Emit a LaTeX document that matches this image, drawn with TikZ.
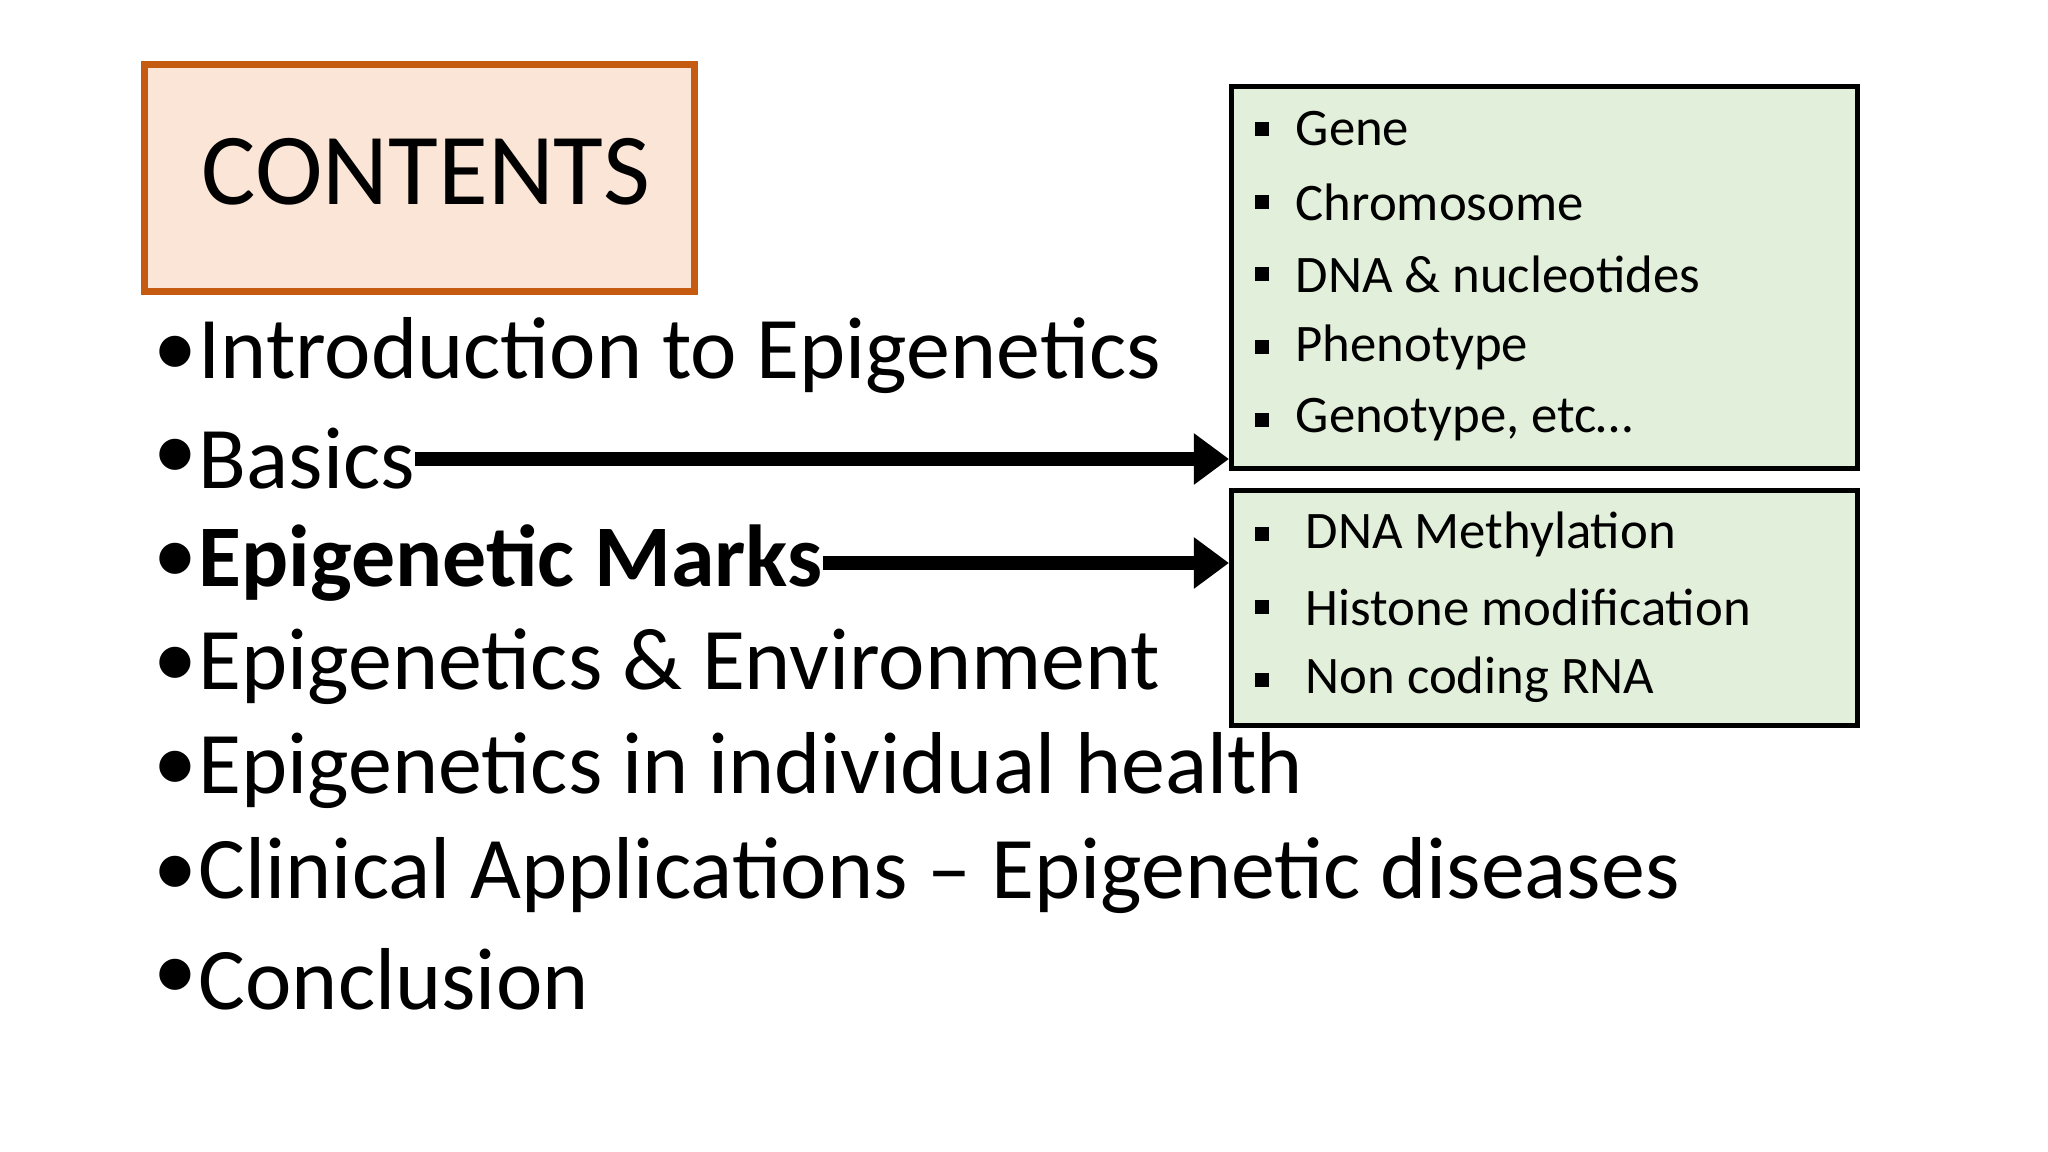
\documentclass[tikz,border=0pt]{standalone}
\usepackage{fontspec}
\setmainfont{Carlito}
\usetikzlibrary{arrows.meta}
\definecolor{boxfill}{HTML}{FBE5D6}
\definecolor{boxline}{HTML}{C55A11}
\definecolor{greenfill}{HTML}{E2EFDA}
\tikzset{
  item/.style={anchor=west,font=\fontsize{25pt}{30pt}\selectfont,inner sep=0pt},
  sub/.style={anchor=west,font=\fontsize{15pt}{18pt}\selectfont,inner sep=0pt},
  sq/.style={fill=black,minimum size=4pt,inner sep=0pt,draw=none},
  gbox/.style={draw=black,line width=1.4pt,fill=greenfill},
  arr/.style={line width=3.7pt,-{Triangle[length=10pt,width=14pt]}}
}
\begin{document}
\begin{tikzpicture}[x=0.01cm,y=-0.01cm]
\useasboundingbox (0,0) rectangle (2048,1152);
\fill[white] (0,0) rectangle (2048,1152);
\node[draw=boxline,line width=2pt,fill=boxfill,minimum width=550*0.01cm,minimum height=227*0.01cm,anchor=north west] (cbox) at (141,61) {};
\node[anchor=west,inner sep=0pt,font=\fontsize{29pt}{34pt}\selectfont] (ctitle) at (201,172) {CONTENTS};
% bullets
\foreach \y/\t/\n in {356/Introduction to Epigenetics/i1, 459/Basics/i2, 563/\textbf{Epigenetic Marks}/i3, 667/Epigenetics \& Environment/i4, 771/Epigenetics in individual health/i5, 876/Clinical Applications -- Epigenetic diseases/i6, 979/Conclusion/i7}{
  \node[item] (\n) at (198,\y) {\t};
  \node[anchor=east,inner sep=0pt,font=\fontsize{25pt}{30pt}\selectfont] (\n b) at (\n.west) {•};
}
% green boxes
\node[gbox,minimum width=626*0.01cm,minimum height=382*0.01cm,anchor=north west] (b1) at (1229,84) {};
\node[gbox,minimum width=626*0.01cm,minimum height=235*0.01cm,anchor=north west] (b2) at (1229,488) {};
\foreach \y/\t/\n in {129/Gene/g1,202/Chromosome/g2,274/DNA \& nucleotides/g3,347/Phenotype/g4,420/{Genotype, etc…}/g5}{
  \node[sq] (\n s) at (1262,\y) {};
  \node[sub] (\n) at (1295,\y) {\t};
}
\foreach \y/\t/\n in {534/DNA Methylation/h1,607/Histone modification/h2,680/Non coding RNA/h3}{
  \node[sq] (\n s) at (1262,\y) {};
  \node[sub] (\n) at (1305,\y) {\t};
}
\draw[arr] (i2.east) -- (i2.east -| b1.west);
\draw[arr] (i3.east) -- (i3.east -| b2.west);
\end{tikzpicture}
\end{document}
